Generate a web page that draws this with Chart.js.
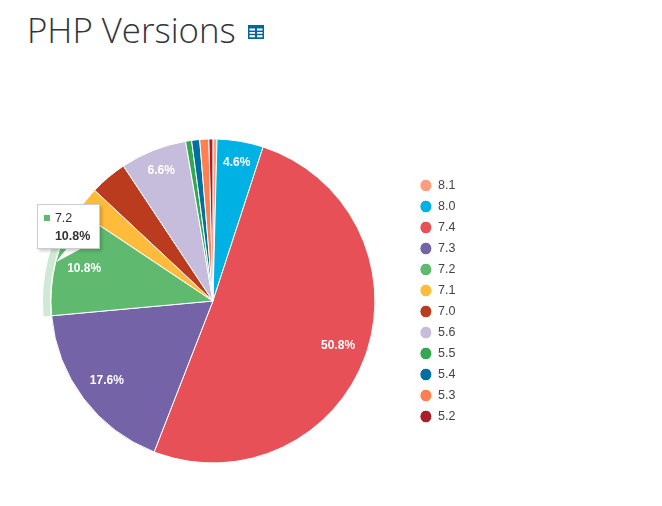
<!DOCTYPE html>
<html>
<head>
<meta charset="utf-8">
<title>PHP Versions</title>
<script src="https://cdn.jsdelivr.net/npm/chart.js@4"></script>
<style>
    html, body { margin: 0; padding: 0; background: #fff; overflow: hidden; }
    #wrap { position: relative; width: 662px; height: 506px; }
    #chart { position: absolute; left: 0; top: 0; }
    h1 {
        position: absolute; left: 27px; top: 6px; margin: 0;
        font: 300 34.8px "Open Sans", sans-serif; color: #2f353b; white-space: nowrap;
    }
    #table-icon { position: absolute; left: 248px; top: 25px; }
    #tip {
        position: absolute; width: 61px; height: 43px; background: #fff;
        border: 1px solid #ccc; box-shadow: 2px 2px 3px rgba(0,0,0,.2);
        font: 12.5px "Liberation Sans", Arial, sans-serif; color: #333; display: none;
    }
    #tip .box { position: absolute; left: 6px; top: 10px; width: 6px; height: 6px; }
    #tip .name { position: absolute; left: 17px; top: 6px; }
    #tip .val { position: absolute; left: 17px; top: 24px; font-weight: bold; }
    #tip-caret {
        position: absolute; width: 26px; height: 14px; background: #fff; display: none;
        clip-path: polygon(0 100%, 42% 0, 100% 0);
    }
</style>
</head>
<body>
<div id="wrap">
    <h1>PHP Versions</h1>
    <svg id="table-icon" width="16" height="14" viewBox="0 0 16 14">
        <rect width="16" height="14" fill="#00689d"/>
        <path d="M1.5 3.5h5.5v2H1.5zM9 3.5h5.5v2H9zM1.5 7h5.5v1.8H1.5zM9 7h5.5v1.8H9zM1.5 10.3h5.5v2H1.5zM9 10.3h5.5v2H9z" fill="#fff"/>
    </svg>
    <canvas id="chart" width="662" height="506"></canvas>
    <div id="tip-caret"></div>
    <div id="tip"><span class="box"></span><span class="name"></span><span class="val"></span></div>
</div>
<script>
const versions = ["8.1", "8.0", "7.4", "7.3", "7.2", "7.1", "7.0", "5.6", "5.5", "5.4", "5.3", "5.2"];
const shares = [0.4, 4.6, 50.8, 17.6, 10.8, 2.6, 3.7, 6.6, 0.6, 0.8, 0.9, 0.4];
const colors = ["#fd9f7f", "#00b2e3", "#e85058", "#7563a7", "#5fba70", "#ffbb3c",
                "#bb3b1f", "#c5bddb", "#33a852", "#0070a3", "#ff7f50", "#a91e27"];
const hoveredIndex = 4;

// white % labels on the bigger slices
const sliceLabels = {
    id: "sliceLabels",
    afterDatasetsDraw(chart) {
        const ctx = chart.ctx;
        chart.getDatasetMeta(0).data.forEach((arc, i) => {
            if (shares[i] < 4) return;
            const mid = (arc.startAngle + arc.endAngle) / 2;
            const r = arc.outerRadius * (shares[i] < 10 ? 0.865 : 0.82);
            ctx.save();
            ctx.font = "bold 12px 'Liberation Sans', Arial, sans-serif";
            ctx.fillStyle = "#fff";
            ctx.textAlign = "center";
            ctx.textBaseline = "middle";
            ctx.fillText(shares[i].toFixed(1) + "%", arc.x + Math.cos(mid) * r, arc.y + Math.sin(mid) * r);
            ctx.restore();
        });
    }
};

// pale ring around the hovered slice
const hoverHalo = {
    id: "hoverHalo",
    afterDatasetsDraw(chart) {
        const arc = chart.getDatasetMeta(0).data[hoveredIndex];
        const ctx = chart.ctx;
        ctx.save();
        ctx.beginPath();
        ctx.arc(arc.x, arc.y, arc.outerRadius + 8, arc.startAngle, arc.endAngle);
        ctx.arc(arc.x, arc.y, arc.outerRadius + 1, arc.endAngle, arc.startAngle, true);
        ctx.closePath();
        ctx.fillStyle = colors[hoveredIndex];
        ctx.globalAlpha = 0.3;
        ctx.fill();
        ctx.restore();
    }
};

// tooltip tip sits on the rim of the slice
Chart.Tooltip.positioners.rim = function (items) {
    const arc = items[0].element;
    const mid = (arc.startAngle + arc.endAngle) / 2;
    return { x: arc.x + Math.cos(mid) * arc.outerRadius, y: arc.y + Math.sin(mid) * arc.outerRadius };
};

function showTip(context) {
    const t = context.tooltip;
    if (!t.dataPoints || !t.dataPoints.length) return;
    const tip = document.getElementById("tip");
    const caret = document.getElementById("tip-caret");
    const i = t.dataPoints[0].dataIndex;
    tip.querySelector(".box").style.background = colors[i];
    tip.querySelector(".name").textContent = versions[i];
    tip.querySelector(".val").textContent = shares[i].toFixed(1) + "%";
    tip.style.display = "block";
    tip.style.left = (t.caretX - 19) + "px";
    tip.style.top = (t.caretY - 57) + "px";
    caret.style.display = "block";
    caret.style.left = t.caretX + "px";
    caret.style.top = (t.caretY - 13) + "px";
}

const chart = new Chart(document.getElementById("chart"), {
    type: "pie",
    data: {
        labels: versions,
        datasets: [{
            data: shares,
            backgroundColor: colors,
            borderColor: "#fff",
            borderWidth: 1,
            radius: 162
        }]
    },
    plugins: [hoverHalo, sliceLabels],
    options: {
        responsive: false,
        animation: false,
        layout: { padding: { left: 14.5, right: 196.5, top: 96, bottom: 0 } },
        plugins: {
            legend: {
                position: "right",
                labels: {
                    usePointStyle: true,
                    pointStyle: "circle",
                    boxHeight: 9,
                    pointStyleWidth: 12,
                    padding: 8.5,
                    color: "#444",
                    font: { family: "'Liberation Sans', Arial, sans-serif", size: 12.5 }
                }
            },
            tooltip: { enabled: false, position: "rim", external: showTip }
        }
    }
});

chart.tooltip.setActiveElements([{ datasetIndex: 0, index: hoveredIndex }], { x: 0, y: 0 });
</script>
</body>
</html>
